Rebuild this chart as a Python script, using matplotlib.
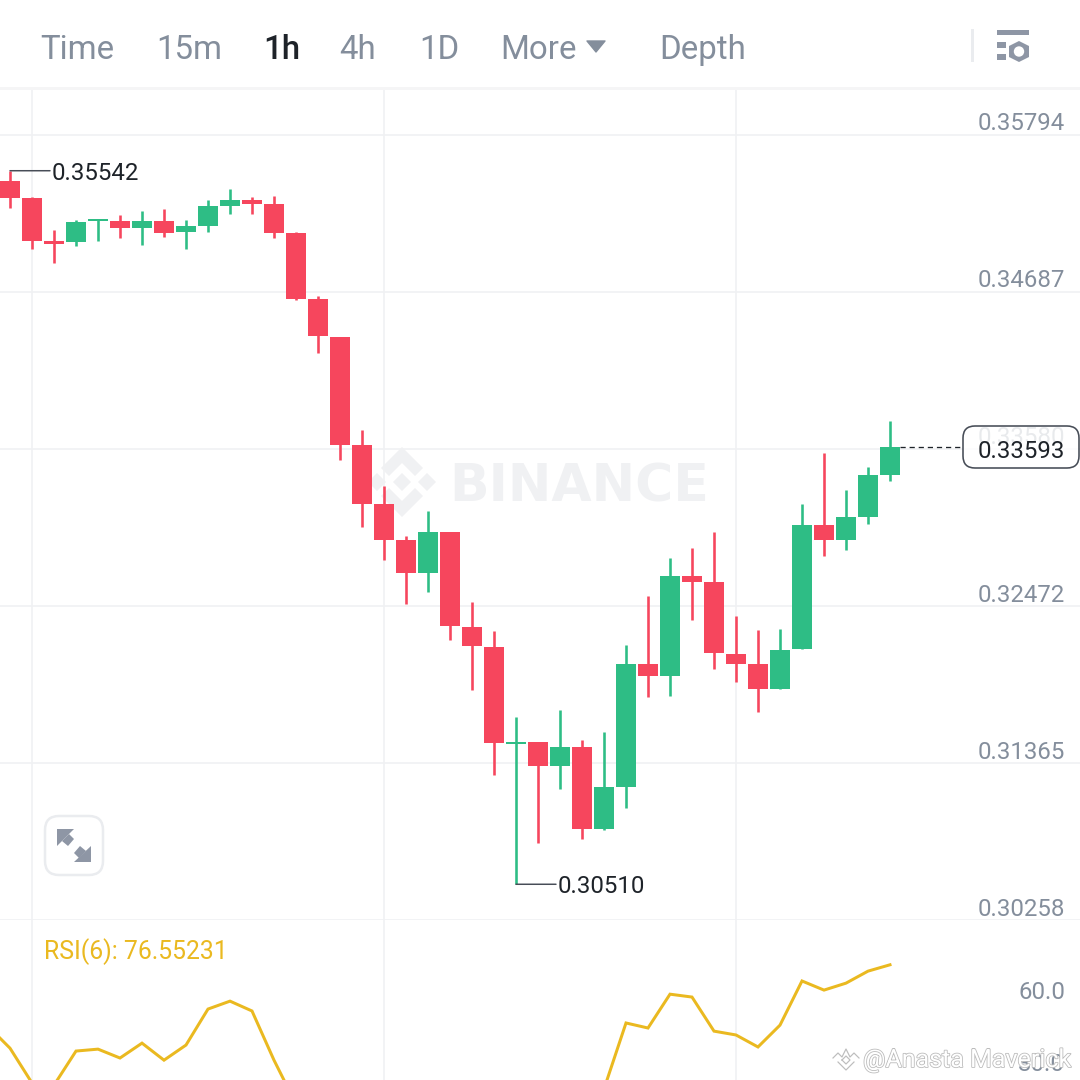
import matplotlib
matplotlib.use("Agg")
import matplotlib.pyplot as plt
import matplotlib.patheffects as pe
from matplotlib.patches import FancyBboxPatch, Polygon, Circle, Rectangle
from matplotlib.transforms import ScaledTranslation

plt.rcParams['font.family'] = ['Roboto', 'DejaVu Sans']

# ---- data ----
open_ = [.35470,.35350,.35047,.35040,.35188,.35188,.35138,.35188,.35110,.35153,.35294,.35336,.35308,.35103,
         .34638,.34370,.33608,.33192,.32939,.32706,.32995,.32325,.32184,.31500,.31514,.31345,.31479,.30901,
         .31197,.32064,.31980,.32685,.32642,.32135,.32064,.31888,.32170,.33044,.32939,.33101,.33397]
close = [.35350,.35047,.35026,.35181,.35202,.35138,.35188,.35103,.35153,.35294,.35336,.35308,.35103,.34638,
         .34377,.33608,.33192,.32939,.32706,.32995,.32332,.32191,.31507,.31514,.31345,.31479,.30901,.31197,
         .32064,.31980,.32685,.32642,.32142,.32064,.31888,.32163,.33044,.32939,.33101,.33397,.33593]
high =  [.35542,.35357,.35124,.35195,.35202,.35230,.35258,.35272,.35195,.35336,.35413,.35357,.35364,.35110,
         .34659,.34370,.33714,.33319,.32967,.33143,.32995,.32501,.32297,.31690,.31514,.31740,.31528,.31585,
         .32198,.32544,.32812,.32882,.32995,.32403,.32304,.32311,.33192,.33552,.33291,.33453,.33778]
low =   [.35279,.34990,.34892,.35012,.35047,.35068,.35019,.35075,.34990,.35110,.35237,.35237,.35068,.34631,
         .34257,.33503,.33030,.32797,.32487,.32572,.32233,.31881,.31282,.30510,.30802,.31183,.30830,.30894,
         .31049,.31832,.31839,.32374,.32029,.31937,.31726,.31888,.32170,.32826,.32868,.33051,.33355]
nan = float('nan')
rsi_index = list(range(-1, 41))
rsi = [51.0,41.8,27.3,26.4,40.6,41.4,37.7,43.9,36.8,43.1,58.1,61.4,57.3,36.8,18.5,
       nan,nan,nan,nan,nan,nan,nan,nan,nan,nan,nan,nan,nan,24.8,
       52.3,50.2,64.3,63.1,48.9,47.3,42.3,51.4,69.8,66.0,68.9,73.9,76.55]
price_ticks = [.35794,.34687,.33580,.32472,.31365,.30258]
price_labels = ['0.35794','0.34687','0.33580','0.32472','0.31365','0.30258']
rsi_ticks = [60, 30]
rsi_labels = ['60.0','30.0']
time_ticks = [1, 17, 33]
tabs = ['Time','15m','1h','4h','1D','More','Depth']
last_price = .33593
hi_mark, lo_mark = .35542, .30510

GREEN, RED = '#2ebd85', '#f6465d'
GRID = '#f0f1f3'
GRAY = '#848e9c'
DARK = '#1e2329'
YEL = '#eab920'
px = 0.72  # points per pixel at dpi 100
W = H = 1080.0

fig = plt.figure(figsize=(10.8, 10.8), dpi=100, facecolor='white')

def rect(top, bottom):
    return [0, 1 - bottom / H, 1, (bottom - top) / H]

# background overlay (watermark, chrome)
bg = fig.add_axes([0, 0, 1, 1], zorder=0)
bg.set_xlim(0, W); bg.set_ylim(H, 0); bg.axis('off')

# main price axes: pixel scale 157 px per tick step
ax = fig.add_axes(rect(88, 920), zorder=1)
ax.patch.set_alpha(0)
step = (.35794 - .34687) / 157
ax.set_ylim(.30258, .35794 + 47 * step)
ax.set_xlim(-10 / 22, 1070 / 22)
for s in ax.spines.values():
    s.set_visible(False)
ax.set_xticks(time_ticks, [''] * 3)
ax.yaxis.tick_right()
ax.set_yticks(price_ticks, price_labels)
ax.tick_params(axis='both', length=0)
ax.tick_params(axis='y', pad=-15 * px, labelsize=24 * px, labelcolor=GRAY)
ax.grid(True, color=GRID, lw=1.6 * px)
ax.set_axisbelow(True)
for lab in ax.get_yticklabels():
    lab.set_ha('right'); lab.set_va('center')
    lab.set_transform(lab.get_transform() + ScaledTranslation(0, 11 / 100, fig.dpi_scale_trans))
    lab.set_zorder(2)

xs = list(range(len(open_)))
colors = [GREEN if c >= o else RED for o, c in zip(open_, close)]
ax.vlines(xs, low, high, colors=colors, lw=2.6 * px, zorder=3)
ax.bar(xs, [max(abs(c - o), 2.2 * step) for o, c in zip(open_, close)],
       bottom=[min(o, c) for o, c in zip(open_, close)],
       width=20 / 22, color=colors, lw=0, zorder=4)

# high / low / last markers
for lbl, xi, val in [('0.35542', 0, hi_mark), ('0.30510', 23, lo_mark)]:
    ax.annotate('', xy=(xi, val), xytext=(40 * px, 0), textcoords='offset points',
                arrowprops=dict(arrowstyle='-', color='#474d57', lw=1.5 * px, shrinkA=0, shrinkB=0))
    ax.annotate(lbl, xy=(xi, val), xytext=(42 * px, -2.5 * px), textcoords='offset points',
                va='center', ha='left', fontsize=24 * px, color=DARK)
ax.hlines(last_price, 40.45, 43.3, color=DARK, lw=1.3 * px, linestyles=(0, (4, 3)), zorder=5)

# RSI axes
ax2 = fig.add_axes(rect(920, 1080), zorder=1, sharex=ax)
ax2.patch.set_alpha(0)
ax2.set_ylim(60 - 75.5 * 0.4167, 60 + 84.5 * 0.4167)
for s in ax2.spines.values():
    s.set_visible(False)
ax2.yaxis.tick_right()
ax2.set_yticks(rsi_ticks, rsi_labels)
ax2.tick_params(axis='both', length=0)
ax2.tick_params(axis='y', pad=-15 * px, labelsize=24 * px, labelcolor=GRAY)
ax2.tick_params(axis='x', labelbottom=False)
ax2.grid(True, axis='x', color=GRID, lw=1.6 * px)
ax2.set_axisbelow(True)
for lab in ax2.get_yticklabels():
    lab.set_ha('right'); lab.set_va('center')
    lab.set_transform(lab.get_transform() + ScaledTranslation(0, 12 / 100, fig.dpi_scale_trans))
ax2.plot(rsi_index, rsi, color=YEL, lw=3 * px, solid_joinstyle='miter', zorder=3)
ax2.text(0.041, 0.80, 'RSI(6): 76.55231', transform=ax2.transAxes, color=YEL,
         fontsize=24.7 * px, va='center', ha='left')

# watermark (behind the candles)
cx, cy = 402, 482
logo = [[(0,-35),(21,-14),(13,-6),(0,-19),(-13,-6),(-21,-14)],
        [(0,35),(21,14),(13,6),(0,19),(-13,6),(-21,14)],
        [(0,-9),(9,0),(0,9),(-9,0)],
        [(25,-9),(34,0),(25,9),(16,0)],
        [(-25,-9),(-16,0),(-25,9),(-34,0)]]
for poly in logo:
    bg.add_patch(Polygon([(cx + a, cy + b) for a, b in poly], closed=True, fc=GRID, ec='none'))
bg.text(449, 501, 'BINANCE', color=GRID, fontsize=52 * px, fontweight='bold', ha='left', va='baseline',
        fontfamily='DejaVu Sans')

# top overlay
fg = fig.add_axes([0, 0, 1, 1], zorder=5)
fg.set_xlim(0, W); fg.set_ylim(H, 0); fg.axis('off'); fg.patch.set_alpha(0)
fg.add_patch(Rectangle((0, 86.5), W, 3, fc='#f5f5f6', ec='none'))
tab_x = [40, 156, 263, 339, 419, 500, 659]
for name, x in zip(tabs, tab_x):
    active = name == '1h'
    fg.text(x, 59, name, fontsize=33 * px, color=DARK if active else GRAY, ha='left', va='baseline',
            fontweight='medium' if active else 'normal')
fg.add_patch(Polygon([(587, 41), (605, 41), (596, 52)], closed=True, fc=GRAY, ec=GRAY, lw=1, joinstyle='round'))
fg.add_patch(Rectangle((971, 29), 2.5, 33, fc='#eaecef', ec='none'))
# settings icon
fg.add_patch(Rectangle((997, 30), 32, 5, fc='#8e96a5', ec='none'))
fg.add_patch(Rectangle((997, 42), 9, 6, fc='#8e96a5', ec='none'))
fg.add_patch(Rectangle((997, 54), 9, 6, fc='#8e96a5', ec='none'))
fg.add_patch(Polygon([(1019, 41), (1029, 46), (1029, 57), (1019, 62), (1009, 57), (1009, 46)],
                     closed=True, fc='#8e96a5', ec='none'))
fg.add_patch(Circle((1019, 51.5), 5.2, fc='white', ec='none'))
# expand button
fg.add_patch(FancyBboxPatch((59, 830), 30, 31, boxstyle='round,pad=14,rounding_size=14',
                            fc='white', ec='#eaecef', lw=2.5 * px))
for tri, shaft in [([(57, 829), (74, 829), (57, 846)], [(62, 841), (69, 834), (74, 839), (68, 846)]),
                   ([(91, 862), (91, 846), (74, 862)], [(86, 851), (79, 858), (74, 853), (80, 846)])]:
    fg.add_patch(Polygon(tri, closed=True, fc='#8e96a5', ec='none'))
    fg.add_patch(Polygon(shaft, closed=True, fc='#8e96a5', ec='none'))
# last price tag
fg.add_patch(FancyBboxPatch((972, 435), 98, 24, boxstyle='round,pad=9,rounding_size=12',
                            fc=(1, 1, 1, 0.82), ec='#474d57', lw=1.6 * px))
fg.text(1021, 452, '0.33593', fontsize=24 * px, color=DARK, ha='center', va='center')
# footer watermark
fg.text(863, 1067, '@Anasta Maverick', fontsize=25 * px, color='white', ha='left', va='baseline',
        path_effects=[pe.withStroke(linewidth=1.2, foreground='#bcbcbc')])
for zig in [[(833, 1058), (838, 1053), (842, 1057), (846, 1049), (850, 1057), (854, 1053), (859, 1058)],
            [(838, 1062), (846, 1070), (854, 1062)],
            [(842, 1060), (846, 1056), (850, 1060), (846, 1064), (842, 1060)]]:
    fg.plot(*zip(*zig), color='#bdbdbd', lw=1.2 * px)

fig.savefig('out.png', dpi=100, facecolor='white')
